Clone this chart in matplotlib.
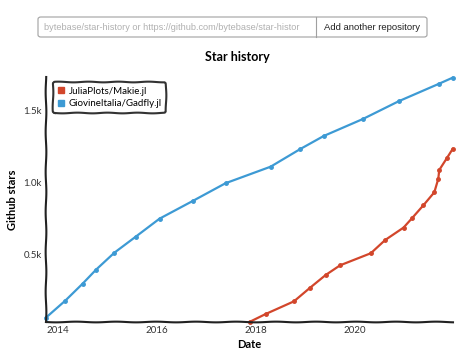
import numpy as np
import matplotlib.pyplot as plt
from matplotlib.patches import FancyBboxPatch, Rectangle

# star counts (x = fractional year)
makie_year = [2017.88, 2018.20, 2018.77, 2019.09, 2019.41, 2019.70, 2020.32, 2020.61,
              2020.98, 2021.15, 2021.38, 2021.60, 2021.68, 2021.70, 2021.86, 2021.97]
makie_stars = [36, 90, 178, 271, 361, 428, 512, 604, 690, 755, 845, 935, 1028, 1090, 1176, 1236]

gadfly_year = [2013.77, 2014.16, 2014.51, 2014.78, 2015.15, 2015.58, 2016.06, 2016.73,
               2017.39, 2018.30, 2018.90, 2019.37, 2020.16, 2020.88, 2021.69, 2021.97]
gadfly_stars = [65, 183, 301, 398, 516, 627, 752, 875, 998, 1113, 1236, 1326, 1444, 1567, 1688, 1731]

series_names = ['JuliaPlots/Makie.jl', 'GiovineItalia/Gadfly.jl']
colors = ['#d2462b', '#3d9ad4']

xticks = [2014, 2016, 2018, 2020]
yticks = [500, 1000, 1500]
ytick_labels = ['0.5k', '1.0k', '1.5k']

plt.rcParams['font.family'] = ['Lato', 'DejaVu Sans']

fig = plt.figure(figsize=(4.74, 3.53), dpi=100)
ax = fig.add_axes([0.097, 0.088, 0.859, 0.694])

ax.plot(makie_year, makie_stars, color=colors[0], lw=1.6, marker='o', ms=2.5,
        label=series_names[0], clip_on=False)
ax.plot(gadfly_year, gadfly_stars, color=colors[1], lw=1.6, marker='o', ms=2.5,
        label=series_names[1], clip_on=False)

ax.set_xlim(2013.77, 2021.98)
ax.set_ylim(35, 1736)
ax.set_xticks(xticks)
ax.set_xticklabels([str(t) for t in xticks])
ax.set_yticks(yticks)
ax.set_yticklabels(ytick_labels)
ax.tick_params(length=0, labelsize=7, colors='#333333', pad=3)
ax.set_xlabel('Date', fontsize=8, fontweight='bold', labelpad=3)
ax.set_ylabel('Github stars', fontsize=8, fontweight='bold', labelpad=4)

for s in ['top', 'right']:
    ax.spines[s].set_visible(False)
for s in ['left', 'bottom']:
    ax.spines[s].set_linewidth(1.5)
    ax.spines[s].set_color('#222222')
    ax.spines[s].set_sketch_params(0.35, 40, 1)

leg = ax.legend(loc='upper left', fontsize=7, handlelength=0.6, handleheight=0.6,
                frameon=True, borderpad=0.5, labelspacing=0.35, handletextpad=0.5,
                bbox_to_anchor=(0.005, 1.0), fancybox=True)
for h in leg.legend_handles:
    h.set_marker('s')
    h.set_linestyle('')
    h.set_markersize(4)
fr = leg.get_frame()
fr.set_edgecolor('black')
fr.set_linewidth(1.5)
fr.set_sketch_params(0.35, 30, 1)

fig.text(0.5, 0.838, 'Star history', ha='center', va='center', fontsize=9, fontweight='bold')

# the input box above the chart
box = FancyBboxPatch((38 / 474, 1 - 37 / 353), 389 / 474, 20 / 353,
                     boxstyle='round,pad=0,rounding_size=0.006', transform=fig.transFigure,
                     fc='white', ec='#a0a0a0', lw=0.8)
fig.patches.append(box)
fig.lines.append(plt.Line2D([316 / 474, 316 / 474], [1 - 37 / 353, 1 - 17 / 353],
                            transform=fig.transFigure, color='#a0a0a0', lw=0.8))
fig.text(44 / 474, 1 - 27 / 353, 'bytebase/star-history or https://github.com/bytebase/star-histor',
         family=['Liberation Sans', 'DejaVu Sans'], fontsize=6.6, color='#b0b0b0',
         va='center', ha='left')
fig.text(371.5 / 474, 1 - 27 / 353, 'Add another repository',
         family=['Liberation Sans', 'DejaVu Sans'], fontsize=6.8, color='#222222',
         va='center', ha='center')

fig.savefig('out.png', dpi=100)
